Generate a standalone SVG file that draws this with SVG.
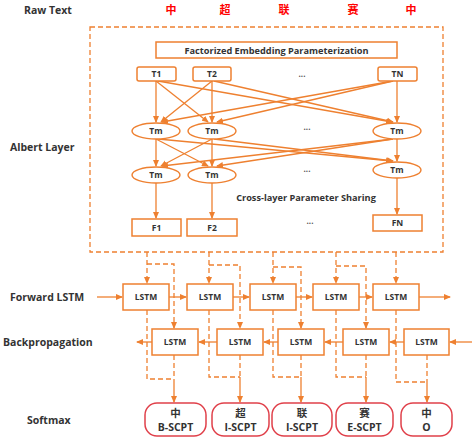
<svg xmlns="http://www.w3.org/2000/svg" width="474" height="440" viewBox="0 0 474 440">
<defs>
<marker id="ah" markerWidth="7" markerHeight="7" refX="6" refY="3.5" orient="auto" markerUnits="userSpaceOnUse">
<path d="M0,0.5 L7,3.5 L0,6.5 Z" fill="#EE8030"/>
</marker>
</defs>
<style>
text{font-family:"Open Sans","Noto Sans","Noto Sans CJK SC",sans-serif;font-weight:bold;fill:#333;}
.lbl{font-size:10.5px;}
.sm{font-size:8.5px;text-anchor:middle;}
.mid{font-size:9.2px;text-anchor:middle;}
.raw{font-size:11px;fill:#FF0000;text-anchor:middle;font-family:"Noto Sans CJK SC",sans-serif;}
.box{fill:#fff;stroke:#EE8030;stroke-width:1.5;}
.ell{fill:#fff;stroke:#EE8030;stroke-width:1.4;}
.sbox{fill:#fff;stroke:#E0404A;stroke-width:1.5;}
.arr{fill:none;stroke:#EE8030;stroke-width:1.3;marker-end:url(#ah);}
.dash{fill:none;stroke:#EE8030;stroke-width:1.3;stroke-dasharray:5 3;}
.darr{fill:none;stroke:#EE8030;stroke-width:1.3;stroke-dasharray:5 3;marker-end:url(#ah);}
.stx{font-size:10.5px;text-anchor:middle;font-family:"Open Sans","Noto Sans CJK SC",sans-serif;}
.dots{font-size:8px;text-anchor:middle;fill:#555;}
</style>
<rect width="474" height="440" fill="#fff"/>

<g id="labels">
<text class="lbl" x="24" y="14">Raw Text</text>
<text class="lbl" x="10" y="151">Albert Layer</text>
<text class="lbl" x="10" y="301">Forward LSTM</text>
<text class="lbl" x="3" y="346">Backpropagation</text>
<text class="lbl" x="27" y="424">Softmax</text>
</g>

<g id="rawtext">
<text class="raw" x="171" y="14">中</text>
<text class="raw" x="225" y="14">超</text>
<text class="raw" x="284" y="14">联</text>
<text class="raw" x="353" y="14">赛</text>
<text class="raw" x="411" y="14">中</text>
</g>

<g id="albert">
<rect x="90" y="27" width="353" height="225" class="dash"/>
</g>

<g id="connectors">
<line class="arr" x1="156" y1="81" x2="156" y2="122"/>
<line class="arr" x1="156" y1="81" x2="208" y2="122"/>
<line class="arr" x1="158" y1="81" x2="392" y2="122"/>
<line class="arr" x1="212" y1="81" x2="161" y2="122"/>
<line class="arr" x1="212" y1="81" x2="212" y2="122"/>
<line class="arr" x1="214" y1="81" x2="393" y2="122"/>
<line class="arr" x1="393" y1="81" x2="162" y2="122"/>
<line class="arr" x1="393" y1="81" x2="217" y2="122"/>
<line class="arr" x1="397" y1="81" x2="397" y2="122"/>
<line class="arr" x1="156" y1="139" x2="156" y2="166"/>
<line class="arr" x1="156" y1="139" x2="208" y2="166"/>
<line class="arr" x1="158" y1="139" x2="392" y2="161"/>
<line class="arr" x1="212" y1="139" x2="161" y2="166"/>
<line class="arr" x1="212" y1="139" x2="212" y2="166"/>
<line class="arr" x1="214" y1="139" x2="393" y2="161"/>
<line class="arr" x1="393" y1="139" x2="162" y2="166"/>
<line class="arr" x1="393" y1="139" x2="217" y2="166"/>
<line class="arr" x1="397" y1="139" x2="397" y2="161"/>
<line class="arr" x1="156" y1="183" x2="156" y2="218"/>
<line class="arr" x1="212" y1="183" x2="212" y2="218"/>
<line class="arr" x1="397" y1="178" x2="397" y2="214"/>

<line class="darr" x1="147" y1="252" x2="147" y2="283"/>
<line class="darr" x1="209" y1="252" x2="209" y2="283"/>
<line class="darr" x1="273" y1="252" x2="273" y2="283"/>
<line class="darr" x1="336" y1="252" x2="336" y2="283"/>
<line class="darr" x1="396" y1="252" x2="396" y2="283"/>
<path class="darr" d="M147,264 H174 V328"/>
<path class="darr" d="M209,265 H240 V328"/>
<path class="darr" d="M273,267 H301 V328"/>
<path class="darr" d="M336,266 H366 V328"/>

<line class="arr" x1="97" y1="297" x2="122" y2="297"/>
<line class="arr" x1="169" y1="297" x2="186" y2="297"/>
<line class="arr" x1="233" y1="297" x2="249" y2="297"/>
<line class="arr" x1="296" y1="297" x2="312" y2="297"/>
<line class="arr" x1="359" y1="297" x2="372" y2="297"/>
<line class="arr" x1="419" y1="297" x2="450" y2="297"/>
<line class="arr" x1="472" y1="342" x2="450" y2="342"/>
<line class="arr" x1="404" y1="342" x2="390" y2="342"/>
<line class="arr" x1="343" y1="342" x2="325" y2="342"/>
<line class="arr" x1="278" y1="342" x2="264" y2="342"/>
<line class="arr" x1="217" y1="342" x2="199" y2="342"/>
<line class="arr" x1="152" y1="342" x2="137" y2="342"/>

<path class="dash" d="M147,310 V379 H174"/>
<path class="dash" d="M209,310 V377 H240"/>
<path class="dash" d="M273,310 V377 H301"/>
<path class="dash" d="M336,310 V377 H366"/>
<path class="dash" d="M396,310 V382 H427"/>
<line class="dash" x1="174" y1="355" x2="174" y2="379"/>
<line class="dash" x1="240" y1="355" x2="240" y2="377"/>
<line class="dash" x1="301" y1="355" x2="301" y2="377"/>
<line class="dash" x1="366" y1="355" x2="366" y2="377"/>
<line class="dash" x1="427" y1="355" x2="427" y2="382"/>
<line class="arr" x1="174" y1="379" x2="174" y2="402"/>
<line class="arr" x1="240" y1="377" x2="240" y2="402"/>
<line class="arr" x1="301" y1="377" x2="301" y2="402"/>
<line class="arr" x1="366" y1="377" x2="366" y2="402"/>
<line class="arr" x1="427" y1="382" x2="427" y2="402"/>
</g>

<g id="fep"><rect class="box" x="156" y="42" width="241" height="16"/><text class="mid" x="276.5" y="53.5">Factorized Embedding Parameterization</text></g>

<g id="T1"><rect class="box" x="137" y="67" width="39" height="14" rx="2"/><text class="sm" x="156.5" y="77">T1</text></g>
<g id="T2"><rect class="box" x="193" y="67" width="38" height="14" rx="2"/><text class="sm" x="212" y="77">T2</text></g>
<g id="TN"><rect class="box" x="378" y="67" width="39" height="14" rx="2"/><text class="sm" x="397.5" y="77">TN</text></g>
<text class="dots" x="302" y="77">...</text>

<g id="Tm11"><ellipse class="ell" cx="156" cy="131" rx="24" ry="8"/><text class="sm" x="156" y="134">Tm</text></g>
<g id="Tm12"><ellipse class="ell" cx="212" cy="131" rx="24" ry="8"/><text class="sm" x="212" y="134">Tm</text></g>
<g id="Tm1N"><ellipse class="ell" cx="397" cy="131" rx="24" ry="8"/><text class="sm" x="397" y="134">Tm</text></g>
<text class="dots" x="307" y="130">...</text>

<g id="Tm21"><ellipse class="ell" cx="156" cy="175" rx="24" ry="8"/><text class="sm" x="156" y="178">Tm</text></g>
<g id="Tm22"><ellipse class="ell" cx="212" cy="175" rx="24" ry="8"/><text class="sm" x="212" y="178">Tm</text></g>
<g id="Tm2N"><ellipse class="ell" cx="397" cy="170" rx="24" ry="8"/><text class="sm" x="397" y="173">Tm</text></g>
<text class="dots" x="307" y="172">...</text>

<text class="mid" x="306" y="201">Cross-layer Parameter Sharing</text>

<g id="F1"><rect class="box" x="132" y="219" width="49" height="17"/><text class="sm" x="156.5" y="231">F1</text></g>
<g id="F2"><rect class="box" x="187" y="219" width="50" height="17"/><text class="sm" x="212" y="231">F2</text></g>
<g id="FN"><rect class="box" x="373" y="215" width="49" height="16"/><text class="sm" x="397.5" y="226">FN</text></g>
<text class="dots" x="310" y="224">...</text>

<g id="fw1"><rect class="box" x="123" y="284" width="46" height="26"/><text class="sm" x="146" y="300">LSTM</text></g>
<g id="fw2"><rect class="box" x="187" y="284" width="46" height="26"/><text class="sm" x="210" y="300">LSTM</text></g>
<g id="fw3"><rect class="box" x="250" y="284" width="46" height="26"/><text class="sm" x="273" y="300">LSTM</text></g>
<g id="fw4"><rect class="box" x="313" y="284" width="46" height="26"/><text class="sm" x="336" y="300">LSTM</text></g>
<g id="fw5"><rect class="box" x="373" y="284" width="46" height="26"/><text class="sm" x="396" y="300">LSTM</text></g>

<g id="bw1"><rect class="box" x="152" y="329" width="46" height="26"/><text class="sm" x="175" y="345">LSTM</text></g>
<g id="bw2"><rect class="box" x="217" y="329" width="46" height="26"/><text class="sm" x="240" y="345">LSTM</text></g>
<g id="bw3"><rect class="box" x="278" y="329" width="46" height="26"/><text class="sm" x="301" y="345">LSTM</text></g>
<g id="bw4"><rect class="box" x="343" y="329" width="46" height="26"/><text class="sm" x="366" y="345">LSTM</text></g>
<g id="bw5"><rect class="box" x="404" y="329" width="45" height="26"/><text class="sm" x="426.5" y="345">LSTM</text></g>

<g id="s1"><rect class="sbox" x="145" y="403" width="61" height="33" rx="12"/><text class="stx" x="175.5" y="417">中</text><text class="stx" x="175.5" y="431">B-SCPT</text></g>
<g id="s2"><rect class="sbox" x="212" y="403" width="57" height="33" rx="12"/><text class="stx" x="240.5" y="417">超</text><text class="stx" x="240.5" y="431">I-SCPT</text></g>
<g id="s3"><rect class="sbox" x="272" y="403" width="60" height="33" rx="12"/><text class="stx" x="302" y="417">联</text><text class="stx" x="302" y="431">I-SCPT</text></g>
<g id="s4"><rect class="sbox" x="336" y="403" width="57" height="33" rx="12"/><text class="stx" x="364.5" y="417">赛</text><text class="stx" x="364.5" y="431">E-SCPT</text></g>
<g id="s5"><rect class="sbox" x="401" y="403" width="51" height="33" rx="12"/><text class="stx" x="426.5" y="417">中</text><text class="stx" x="426.5" y="431">O</text></g>
</svg>
